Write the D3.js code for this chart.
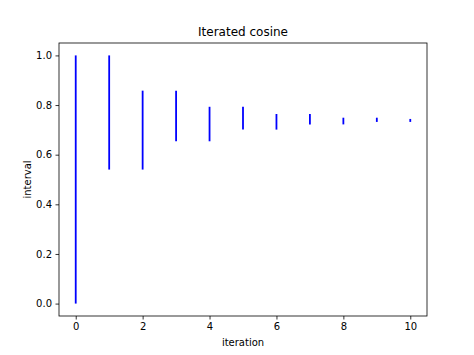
<html lang="en">
<head>
<meta charset="utf-8">
<title>Iterated cosine</title>
<script src="https://d3js.org/d3.v7.min.js"></script>
<style>
  body { margin: 0; background: #fff; }
  text { font-family: "DejaVu Sans", sans-serif; fill: #000; }
</style>
</head>
<body>
<svg class="chart"></svg>
<script>
'use strict';

// data
var iterations = [0, 1, 2, 3, 4, 5, 6, 7, 8, 9, 10];
var lows  = [0.000, 0.540, 0.540, 0.654, 0.654, 0.701, 0.701, 0.722, 0.722, 0.732, 0.732];
var highs = [1.000, 1.000, 0.858, 0.858, 0.793, 0.793, 0.764, 0.764, 0.749, 0.749, 0.744];
var xTicks = [0, 2, 4, 6, 8, 10];
var yTicks = [0.0, 0.2, 0.4, 0.6, 0.8, 1.0];

var W = 474, H = 355;
var margin = {top: 43, right: 47, bottom: 39, left: 59};
var width = W - margin.left - margin.right,
    height = H - margin.top - margin.bottom;

var svg = d3.select(".chart").attr("width", W).attr("height", H);
var chart = svg.append("g")
    .attr("transform", "translate(" + margin.left + "," + margin.top + ")");

var x = d3.scaleLinear().domain([-0.5, 10.5]).range([0, width]);
var y = d3.scaleLinear().domain([-0.05, 1.05]).range([height, 0]);

var xAxis = chart.append("g")
    .attr("transform", "translate(0," + height + ")")
    .call(d3.axisBottom(x).tickValues(xTicks).tickSize(3.5).tickPadding(3.5).tickFormat(d3.format("d")));
var yAxis = chart.append("g")
    .call(d3.axisLeft(y).tickValues(yTicks).tickSize(3.5).tickPadding(3.5).tickFormat(d3.format(".1f")));

[xAxis, yAxis].forEach(function(a) {
    a.select(".domain").remove();
    a.selectAll("line").attr("stroke", "#000").attr("stroke-width", 0.8);
    a.selectAll("text").style("font-size", "10px").attr("fill", "#000");
});

// vertical interval lines
chart.selectAll(".interval")
    .data(iterations)
    .enter().append("line")
    .attr("class", "interval")
    .attr("x1", function(d) { return x(d); })
    .attr("x2", function(d) { return x(d); })
    .attr("y1", function(d, i) { return y(lows[i]); })
    .attr("y2", function(d, i) { return y(highs[i]); })
    .attr("stroke", "#0000ff")
    .attr("stroke-width", 1.8);

// frame
chart.append("rect")
    .attr("width", width).attr("height", height)
    .attr("fill", "none").attr("stroke", "#000").attr("stroke-width", 0.8);

svg.append("text")
    .attr("x", margin.left + width / 2).attr("y", margin.top - 7)
    .attr("text-anchor", "middle").style("font-size", "12px")
    .text("Iterated cosine");

svg.append("text")
    .attr("x", margin.left + width / 2).attr("y", H - 9)
    .attr("text-anchor", "middle").style("font-size", "10px")
    .text("iteration");

svg.append("text")
    .attr("transform", "translate(31," + (margin.top + height / 2) + ") rotate(-90)")
    .attr("text-anchor", "middle").style("font-size", "10px")
    .text("interval");
</script>
</body>
</html>
